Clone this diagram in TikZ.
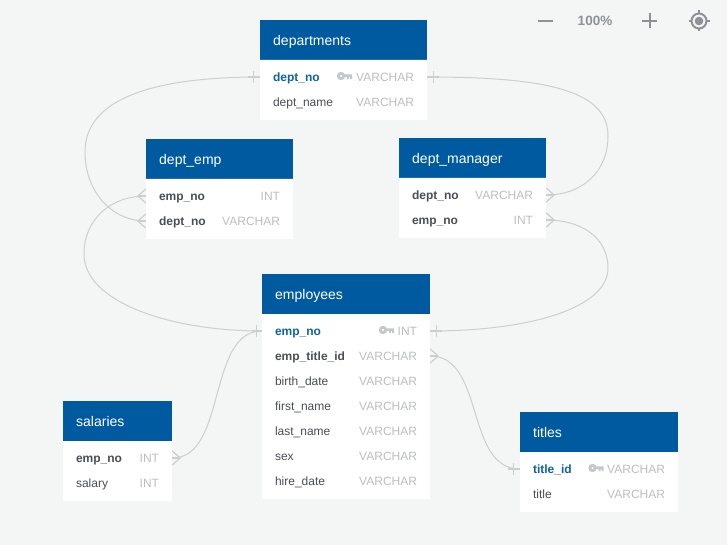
\documentclass[tikz,border=0pt]{standalone}
\usepackage{fontspec}
\setmainfont{Liberation Sans}
\definecolor{bgc}{HTML}{F4F6F6}
\definecolor{headc}{HTML}{005AA0}
\definecolor{keyc}{HTML}{0F62A5}
\definecolor{typec}{HTML}{BCBEC2}
\definecolor{namec}{HTML}{4A4E55}
\definecolor{linec}{HTML}{CDCFCD}
\definecolor{uic}{HTML}{8E9297}
\definecolor{iconc}{HTML}{C4C7CB}
\tikzset{
  x=1pt,y=-1pt,
  headbox/.style={fill=headc,draw=none,inner sep=0pt,minimum height=40pt,anchor=north west},
  rowbox/.style={fill=white,draw=none,inner sep=0pt,minimum height=25pt},
  title/.style={text=white,font=\fontsize{14}{16}\selectfont,anchor=base west,inner sep=0pt},
  colname/.style={text=namec,font=\fontsize{12}{14}\selectfont,anchor=base west,inner sep=0pt},
  colbold/.style={colname,font=\fontsize{12}{14}\selectfont\bfseries},
  colkey/.style={colbold,text=keyc},
  coltype/.style={text=typec,font=\fontsize{12}{14}\selectfont,anchor=base east,inner sep=0pt},
  rel/.style={draw=linec,line width=1pt},
  relmark/.style={draw=linec,line width=1.2pt},
  ui/.style={draw=uic,line width=2pt},
}
% table row: #1 node name, #2 left x, #3 centre y, #4 width, #5 name style, #6 column, #7 type
\newcommand{\trow}[7]{%
  \node[rowbox,minimum width=#4pt] (#1) at (#2+#4/2,#3) {};
  \node[#5] (#1-n) at ([xshift=13pt,yshift=-4.2pt]#1.west) {#6};
  \node[coltype] (#1-t) at ([xshift=-13pt,yshift=-4.2pt]#1.east) {#7};
}
\newcommand{\keyicon}[2]{% centre x, y
  \fill[iconc,even odd rule] (#1-3.5,#2) circle (4.2pt) (#1-3.5,#2) circle (1.4pt);
  \fill[iconc] (#1-0.5,#2-1.6) rectangle (#1+7.5,#2+1.0) (#1+2.5,#2) rectangle (#1+4.5,#2+3.2) (#1+5.5,#2) rectangle (#1+7.5,#2+3.2);
}
% crow's foot: #1 row node, #2 anchor, #3 direction (+1 right, -1 left)
\newcommand{\crow}[3]{%
  \draw[relmark] ([yshift=7pt]#1.#2) -- ([xshift=#3*8pt]#1.#2) -- ([yshift=-7pt]#1.#2);
  \draw[relmark] (#1.#2) -- ([xshift=#3*8pt]#1.#2);
}
% single tick: #1 row node, #2 anchor, #3 signed offset
\newcommand{\tick}[3]{%
  \draw[relmark] ([xshift=#3pt,yshift=6pt]#1.#2) -- ([xshift=#3pt,yshift=-6pt]#1.#2);
  \draw[relmark] (#1.#2) -- ([xshift=#3*2pt]#1.#2);
}
\begin{document}
\begin{tikzpicture}
\path[use as bounding box,fill=bgc] (0,0) rectangle (727,545);

% departments
\node[headbox,minimum width=167pt] (departments) at (260,20) {};
\node[title] (departments-t) at ([xshift=13pt,yshift=-5pt]departments.west) {departments};
\trow{dep1}{260}{77}{167}{colkey}{dept\_no}{VARCHAR}
\trow{dep2}{260}{102}{167}{colname}{dept\_name}{VARCHAR}
\fill[white] (260,60) rectangle (427,65) (260,112) rectangle (427,120);
\keyicon{344.5}{76}

% dept_emp
\node[headbox,minimum width=147pt] (deptemp) at (146,139) {};
\node[title] (deptemp-t) at ([xshift=13pt,yshift=-5pt]deptemp.west) {dept\_emp};
\trow{de1}{146}{196}{147}{colbold}{emp\_no}{INT}
\trow{de2}{146}{221}{147}{colbold}{dept\_no}{VARCHAR}
\fill[white] (146,179) rectangle (293,184) (146,230) rectangle (293,239);

% dept_manager
\node[headbox,minimum width=147pt] (deptmgr) at (399,138) {};
\node[title] (deptmgr-t) at ([xshift=13pt,yshift=-5pt]deptmgr.west) {dept\_manager};
\trow{dm1}{399}{195}{147}{colbold}{dept\_no}{VARCHAR}
\trow{dm2}{399}{220}{147}{colbold}{emp\_no}{INT}
\fill[white] (399,178) rectangle (546,183) (399,229) rectangle (546,238);

% employees
\node[headbox,minimum width=168pt] (employees) at (262,274) {};
\node[title] (employees-t) at ([xshift=13pt,yshift=-5pt]employees.west) {employees};
\trow{em1}{262}{331}{168}{colkey}{emp\_no}{INT}
\trow{em2}{262}{356}{168}{colbold}{emp\_title\_id}{VARCHAR}
\trow{em3}{262}{381}{168}{colname}{birth\_date}{VARCHAR}
\trow{em4}{262}{406}{168}{colname}{first\_name}{VARCHAR}
\trow{em5}{262}{431}{168}{colname}{last\_name}{VARCHAR}
\trow{em6}{262}{456}{168}{colname}{sex}{VARCHAR}
\trow{em7}{262}{481}{168}{colname}{hire\_date}{VARCHAR}
\fill[white] (262,314) rectangle (430,319) (262,490) rectangle (430,499);
\keyicon{386.5}{330}

% salaries
\node[headbox,minimum width=109pt] (salaries) at (63,401) {};
\node[title] (salaries-t) at ([xshift=13pt,yshift=-5pt]salaries.west) {salaries};
\trow{sa1}{63}{458}{109}{colbold}{emp\_no}{INT}
\trow{sa2}{63}{483}{109}{colname}{salary}{INT}
\fill[white] (63,441) rectangle (172,446) (63,492) rectangle (172,501);

% titles
\node[headbox,minimum width=158pt] (titles) at (520,412) {};
\node[title] (titles-t) at ([xshift=13pt,yshift=-5pt]titles.west) {titles};
\trow{ti1}{520}{469}{158}{colkey}{title\_id}{VARCHAR}
\trow{ti2}{520}{494}{158}{colname}{title}{VARCHAR}
\fill[white] (520,452) rectangle (678,457) (520,503) rectangle (678,512);
\keyicon{596}{468}

% connectors
\coordinate (bendA) at (85,152);
\coordinate (bendB) at (84,254);
\coordinate (bendC) at (608,136);
\coordinate (bendD) at (608,268);
\draw[rel] (dep1.west) .. controls (150,77) and (85,100) .. (bendA) .. controls (85,192) and (112,221) .. (de2.west);
\draw[rel] (de1.west) .. controls (110,196) and (84,220) .. (bendB) .. controls (84,302) and (170,331) .. (em1.west);
\draw[rel] (dep1.east) .. controls (545,77) and (608,90) .. (bendC) .. controls (608,172) and (582,195) .. (dm1.east);
\draw[rel] (dm2.east) .. controls (582,220) and (608,238) .. (bendD) .. controls (608,308) and (530,331) .. (em1.east);
\draw[rel] (sa1.east) .. controls (227,458) and (207,331) .. (em1.west);
\draw[rel] (em2.east) .. controls (485,356) and (465,469) .. (ti1.west);

\tick{dep1}{west}{-6}
\tick{dep1}{east}{6}
\tick{em1}{west}{-5}
\tick{em1}{east}{6}
\tick{ti1}{west}{-6}
\crow{de1}{west}{-1}
\crow{de2}{west}{-1}
\crow{dm1}{east}{1}
\crow{dm2}{east}{1}
\crow{sa1}{east}{1}
\crow{em2}{east}{1}

% zoom controls
\draw[ui] (537.5,21) -- (552.5,21);
\node[text=uic,font=\fontsize{13.5}{14}\selectfont\bfseries,inner sep=0pt] (zoompct) at (595,20.5) {100\%};
\draw[ui] (642,21) -- (657,21) (649.5,13.5) -- (649.5,28.5);
\draw[ui] (699,21) circle (7.5pt);
\fill[uic] (699,21) circle (4.3pt);
\draw[ui] (699,10.5) -- (699,13.5) (699,28.5) -- (699,31.5) (688.5,21) -- (691.5,21) (706.5,21) -- (709.5,21);
\end{tikzpicture}
\end{document}
